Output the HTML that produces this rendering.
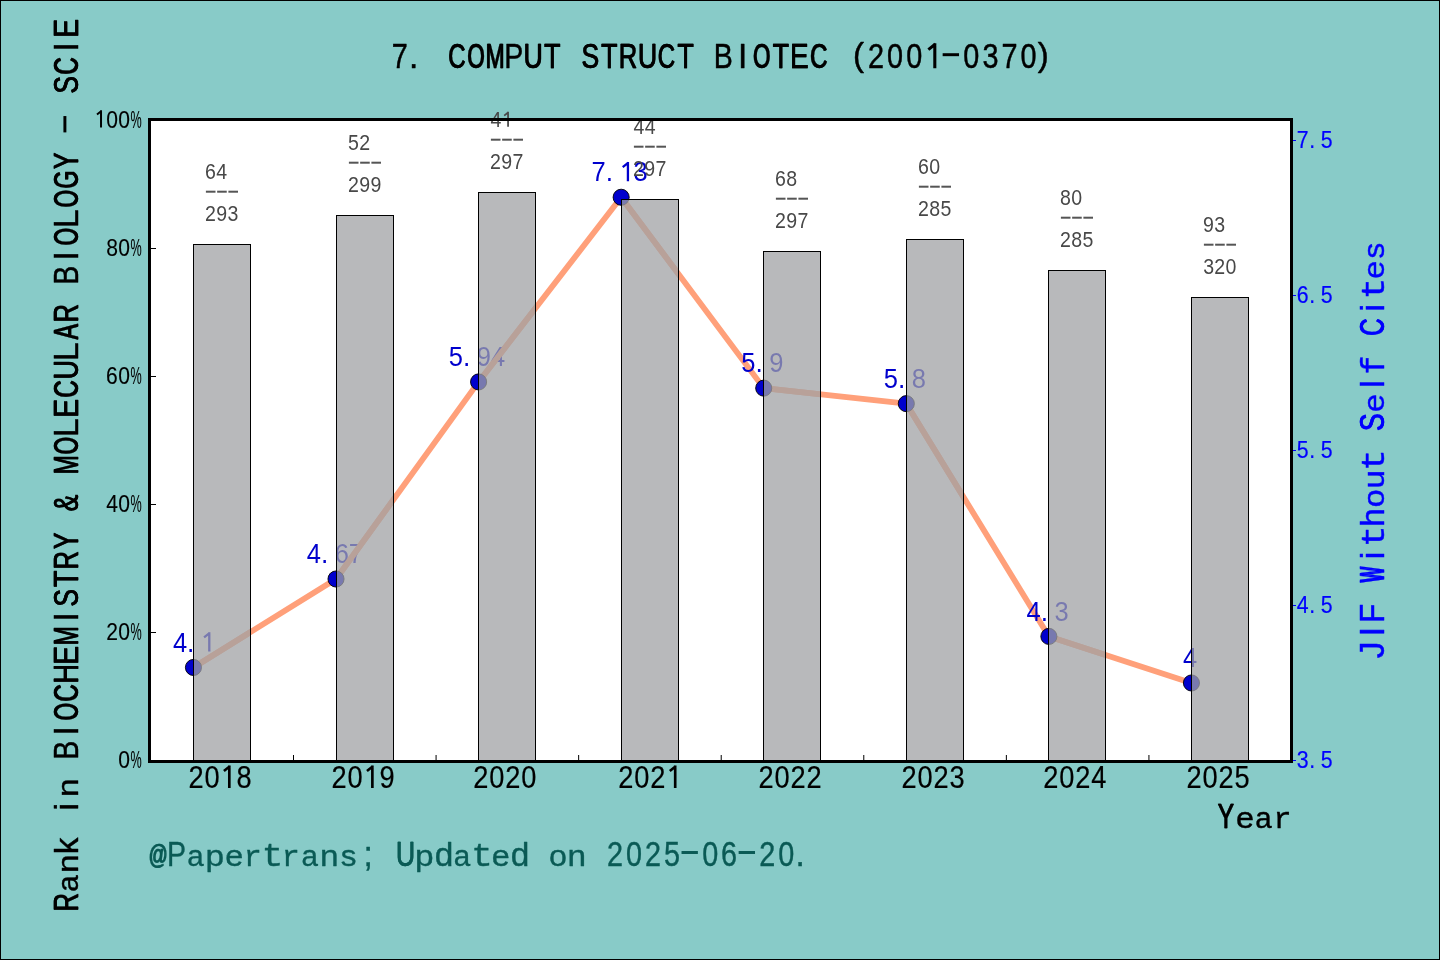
<!DOCTYPE html>
<html><head><meta charset="utf-8"><title>COMPUT STRUCT BIOTEC</title>
<style>
html,body{margin:0;padding:0;background:#88cbc8;}
body{width:1440px;height:960px;overflow:hidden;}
svg{display:block;will-change:transform;font-family:"Liberation Sans",sans-serif;}
</style></head><body>
<svg width="1440" height="960" viewBox="0 0 1440 960">
<rect x="0" y="0" width="1440" height="960" fill="#88cbc8"/>
<rect x="149.5" y="119.5" width="1142.0" height="642.0" fill="#ffffff"/>
<polyline points="193.45,667.45 336.02,579.00 478.59,381.92 621.16,197.26 763.73,388.13 906.31,403.65 1048.88,636.42 1191.45,682.97" fill="none" stroke="#ffa07a" stroke-width="5.8" stroke-linejoin="round" stroke-linecap="butt"/>
<g font-size="27.75" fill="#0000cd"><text transform="translate(172.88,651.55) scale(0.920,1.000)">4</text><text transform="translate(187.01,651.55) scale(0.950,1.000)">.</text><path d="M209.29,651.55V632.13M209.75,632.82L204.08,637.33" fill="none" stroke="#0000cd" stroke-width="2.30"/></g>
<g font-size="27.75" fill="#0000cd"><text transform="translate(306.82,563.10) scale(0.920,1.000)">4</text><text transform="translate(320.95,563.10) scale(0.950,1.000)">.</text><text transform="translate(334.65,563.10) scale(0.920,1.000)">6</text><text transform="translate(348.72,563.10) scale(0.920,1.000)">7</text></g>
<g font-size="27.75" fill="#0000cd"><text transform="translate(448.83,366.02) scale(0.920,1.000)">5</text><text transform="translate(463.02,366.02) scale(0.950,1.000)">.</text><text transform="translate(476.81,366.02) scale(0.920,1.000)">9</text><text transform="translate(490.88,366.02) scale(0.920,1.000)">4</text></g>
<g font-size="27.75" fill="#0000cd"><text transform="translate(591.43,181.36) scale(0.920,1.000)">7</text><text transform="translate(605.66,181.36) scale(0.950,1.000)">.</text><path d="M627.93,181.36V161.93M628.39,162.62L622.72,167.14" fill="none" stroke="#0000cd" stroke-width="2.30"/><text transform="translate(633.51,181.36) scale(0.920,1.000)">3</text></g>
<g font-size="27.75" fill="#0000cd"><text transform="translate(741.24,372.23) scale(0.920,1.000)">5</text><text transform="translate(755.43,372.23) scale(0.950,1.000)">.</text><text transform="translate(769.22,372.23) scale(0.920,1.000)">9</text></g>
<g font-size="27.75" fill="#0000cd"><text transform="translate(883.76,387.75) scale(0.920,1.000)">5</text><text transform="translate(897.95,387.75) scale(0.950,1.000)">.</text><text transform="translate(911.74,387.75) scale(0.920,1.000)">8</text></g>
<g font-size="27.75" fill="#0000cd"><text transform="translate(1026.55,620.52) scale(0.920,1.000)">4</text><text transform="translate(1040.68,620.52) scale(0.950,1.000)">.</text><text transform="translate(1054.54,620.52) scale(0.920,1.000)">3</text></g>
<g font-size="27.75" fill="#0000cd"><text transform="translate(1182.93,667.07) scale(0.920,1.000)">4</text></g>
<clipPath id="barclip"><rect x="193" y="244" width="58" height="518"/><rect x="336" y="215" width="58" height="547"/><rect x="478" y="192" width="58" height="570"/><rect x="621" y="199" width="58" height="563"/><rect x="763" y="251" width="58" height="511"/><rect x="906" y="239" width="58" height="523"/><rect x="1048" y="270" width="58" height="492"/><rect x="1191" y="297" width="58" height="465"/></clipPath>
<g clip-path="url(#barclip)"><polyline points="193.45,667.45 336.02,579.00 478.59,381.92 621.16,197.26 763.73,388.13 906.31,403.65 1048.88,636.42 1191.45,682.97" fill="none" stroke="#ffa07a" stroke-width="5.8" stroke-linejoin="round" stroke-linecap="butt"/></g>
<circle cx="193.45" cy="667.45" r="8.05" fill="#0000cd" stroke="#000000" stroke-width="0.9"/>
<circle cx="336.02" cy="579.00" r="8.05" fill="#0000cd" stroke="#000000" stroke-width="0.9"/>
<circle cx="478.59" cy="381.92" r="8.05" fill="#0000cd" stroke="#000000" stroke-width="0.9"/>
<circle cx="621.16" cy="197.26" r="8.05" fill="#0000cd" stroke="#000000" stroke-width="0.9"/>
<circle cx="763.73" cy="388.13" r="8.05" fill="#0000cd" stroke="#000000" stroke-width="0.9"/>
<circle cx="906.31" cy="403.65" r="8.05" fill="#0000cd" stroke="#000000" stroke-width="0.9"/>
<circle cx="1048.88" cy="636.42" r="8.05" fill="#0000cd" stroke="#000000" stroke-width="0.9"/>
<circle cx="1191.45" cy="682.97" r="8.05" fill="#0000cd" stroke="#000000" stroke-width="0.9"/>
<rect x="193.5" y="244.5" width="57" height="517.0" fill="#a0a1a4" fill-opacity="0.75" stroke="#000000" stroke-width="1"/>
<rect x="336.5" y="215.5" width="57" height="546.0" fill="#a0a1a4" fill-opacity="0.75" stroke="#000000" stroke-width="1"/>
<rect x="478.5" y="192.5" width="57" height="569.0" fill="#a0a1a4" fill-opacity="0.75" stroke="#000000" stroke-width="1"/>
<rect x="621.5" y="199.5" width="57" height="562.0" fill="#a0a1a4" fill-opacity="0.75" stroke="#000000" stroke-width="1"/>
<rect x="763.5" y="251.5" width="57" height="510.0" fill="#a0a1a4" fill-opacity="0.75" stroke="#000000" stroke-width="1"/>
<rect x="906.5" y="239.5" width="57" height="522.0" fill="#a0a1a4" fill-opacity="0.75" stroke="#000000" stroke-width="1"/>
<rect x="1048.5" y="270.5" width="57" height="491.0" fill="#a0a1a4" fill-opacity="0.75" stroke="#000000" stroke-width="1"/>
<rect x="1191.5" y="297.5" width="57" height="464.0" fill="#a0a1a4" fill-opacity="0.75" stroke="#000000" stroke-width="1"/>
<g font-size="20.81" fill="#484848"><text transform="translate(204.92,220.80) scale(0.940,1.030)">2</text><text transform="translate(216.17,220.80) scale(0.940,1.030)">9</text><text transform="translate(227.47,220.80) scale(0.940,1.030)">3</text></g>
<g font-size="20.81" fill="#484848"><text transform="translate(204.91,178.70) scale(0.940,1.030)">6</text><text transform="translate(216.29,178.70) scale(0.940,1.030)">4</text></g>
<rect x="205.90" y="190.70" width="9.6" height="2" fill="#555555"/>
<rect x="217.15" y="190.70" width="9.6" height="2" fill="#555555"/>
<rect x="228.40" y="190.70" width="9.6" height="2" fill="#555555"/>
<g font-size="20.81" fill="#484848"><text transform="translate(347.92,191.80) scale(0.940,1.030)">2</text><text transform="translate(359.17,191.80) scale(0.940,1.030)">9</text><text transform="translate(370.42,191.80) scale(0.940,1.030)">9</text></g>
<g font-size="20.81" fill="#484848"><text transform="translate(348.12,149.70) scale(0.940,1.030)">5</text><text transform="translate(359.35,149.70) scale(0.940,1.030)">2</text></g>
<rect x="348.90" y="161.70" width="9.6" height="2" fill="#555555"/>
<rect x="360.15" y="161.70" width="9.6" height="2" fill="#555555"/>
<rect x="371.40" y="161.70" width="9.6" height="2" fill="#555555"/>
<g font-size="20.81" fill="#484848"><text transform="translate(489.92,168.80) scale(0.940,1.030)">2</text><text transform="translate(501.17,168.80) scale(0.940,1.030)">9</text><text transform="translate(512.41,168.80) scale(0.940,1.030)">7</text></g>
<g font-size="20.81" fill="#484848"><text transform="translate(490.45,126.70) scale(0.940,1.030)">4</text><path d="M508.06,126.70V111.69M508.41,112.22L504.18,115.57" fill="none" stroke="#484848" stroke-width="1.76"/></g>
<rect x="490.90" y="138.70" width="9.6" height="2" fill="#555555"/>
<rect x="502.15" y="138.70" width="9.6" height="2" fill="#555555"/>
<rect x="513.40" y="138.70" width="9.6" height="2" fill="#555555"/>
<g font-size="20.81" fill="#484848"><text transform="translate(632.92,175.80) scale(0.940,1.030)">2</text><text transform="translate(644.17,175.80) scale(0.940,1.030)">9</text><text transform="translate(655.41,175.80) scale(0.940,1.030)">7</text></g>
<g font-size="20.81" fill="#484848"><text transform="translate(633.45,133.70) scale(0.940,1.030)">4</text><text transform="translate(644.70,133.70) scale(0.940,1.030)">4</text></g>
<rect x="633.90" y="145.70" width="9.6" height="2" fill="#555555"/>
<rect x="645.15" y="145.70" width="9.6" height="2" fill="#555555"/>
<rect x="656.40" y="145.70" width="9.6" height="2" fill="#555555"/>
<g font-size="20.81" fill="#484848"><text transform="translate(774.92,227.80) scale(0.940,1.030)">2</text><text transform="translate(786.17,227.80) scale(0.940,1.030)">9</text><text transform="translate(797.41,227.80) scale(0.940,1.030)">7</text></g>
<g font-size="20.81" fill="#484848"><text transform="translate(774.91,185.70) scale(0.940,1.030)">6</text><text transform="translate(786.22,185.70) scale(0.940,1.030)">8</text></g>
<rect x="775.90" y="197.70" width="9.6" height="2" fill="#555555"/>
<rect x="787.15" y="197.70" width="9.6" height="2" fill="#555555"/>
<rect x="798.40" y="197.70" width="9.6" height="2" fill="#555555"/>
<g font-size="20.81" fill="#484848"><text transform="translate(917.92,215.80) scale(0.940,1.030)">2</text><text transform="translate(929.17,215.80) scale(0.940,1.030)">8</text><text transform="translate(940.44,215.80) scale(0.940,1.030)">5</text></g>
<g font-size="20.81" fill="#484848"><text transform="translate(917.91,173.70) scale(0.940,1.030)">6</text><text transform="translate(929.22,173.70) scale(0.940,1.030)">0</text></g>
<rect x="918.90" y="185.70" width="9.6" height="2" fill="#555555"/>
<rect x="930.15" y="185.70" width="9.6" height="2" fill="#555555"/>
<rect x="941.40" y="185.70" width="9.6" height="2" fill="#555555"/>
<g font-size="20.81" fill="#484848"><text transform="translate(1059.92,246.80) scale(0.940,1.030)">2</text><text transform="translate(1071.17,246.80) scale(0.940,1.030)">8</text><text transform="translate(1082.44,246.80) scale(0.940,1.030)">5</text></g>
<g font-size="20.81" fill="#484848"><text transform="translate(1060.05,204.70) scale(0.940,1.030)">8</text><text transform="translate(1071.30,204.70) scale(0.940,1.030)">0</text></g>
<rect x="1060.90" y="216.70" width="9.6" height="2" fill="#555555"/>
<rect x="1072.15" y="216.70" width="9.6" height="2" fill="#555555"/>
<rect x="1083.40" y="216.70" width="9.6" height="2" fill="#555555"/>
<g font-size="20.81" fill="#484848"><text transform="translate(1203.15,273.80) scale(0.940,1.030)">3</text><text transform="translate(1214.35,273.80) scale(0.940,1.030)">2</text><text transform="translate(1225.60,273.80) scale(0.940,1.030)">0</text></g>
<g font-size="20.81" fill="#484848"><text transform="translate(1202.98,231.70) scale(0.940,1.030)">9</text><text transform="translate(1214.29,231.70) scale(0.940,1.030)">3</text></g>
<rect x="1203.90" y="243.70" width="9.6" height="2" fill="#555555"/>
<rect x="1215.15" y="243.70" width="9.6" height="2" fill="#555555"/>
<rect x="1226.40" y="243.70" width="9.6" height="2" fill="#555555"/>
<rect x="293.00" y="755" width="1" height="6" fill="#000"/>
<rect x="435.57" y="755" width="1" height="6" fill="#000"/>
<rect x="578.14" y="755" width="1" height="6" fill="#000"/>
<rect x="720.71" y="755" width="1" height="6" fill="#000"/>
<rect x="863.28" y="755" width="1" height="6" fill="#000"/>
<rect x="1005.86" y="755" width="1" height="6" fill="#000"/>
<rect x="1148.43" y="755" width="1" height="6" fill="#000"/>
<rect x="150" y="760" width="6" height="1" fill="#000"/>
<rect x="150" y="632" width="6" height="1" fill="#000"/>
<rect x="150" y="504" width="6" height="1" fill="#000"/>
<rect x="150" y="376" width="6" height="1" fill="#000"/>
<rect x="150" y="248" width="6" height="1" fill="#000"/>
<rect x="150" y="120" width="6" height="1" fill="#000"/>
<rect x="149.5" y="119.5" width="1142.0" height="642.0" fill="none" stroke="#000" stroke-width="3"/>
<rect x="1293" y="760" width="3" height="1" fill="#0000ff"/>
<g font-size="22.20" fill="#0000ff" stroke="#0000ff" stroke-width="0.2" stroke-linejoin="round"><text transform="translate(1296.84,768.10) scale(0.960,1.060)">3</text><text transform="translate(1309.25,768.10) scale(0.950,1.060)">.</text><text transform="translate(1320.79,768.10) scale(0.960,1.060)">5</text></g>
<rect x="1293" y="605" width="3" height="1" fill="#0000ff"/>
<g font-size="22.20" fill="#0000ff" stroke="#0000ff" stroke-width="0.2" stroke-linejoin="round"><text transform="translate(1296.84,613.10) scale(0.960,1.060)">4</text><text transform="translate(1309.25,613.10) scale(0.950,1.060)">.</text><text transform="translate(1320.79,613.10) scale(0.960,1.060)">5</text></g>
<rect x="1293" y="450" width="3" height="1" fill="#0000ff"/>
<g font-size="22.20" fill="#0000ff" stroke="#0000ff" stroke-width="0.2" stroke-linejoin="round"><text transform="translate(1296.79,458.10) scale(0.960,1.060)">5</text><text transform="translate(1309.25,458.10) scale(0.950,1.060)">.</text><text transform="translate(1320.79,458.10) scale(0.960,1.060)">5</text></g>
<rect x="1293" y="295" width="3" height="1" fill="#0000ff"/>
<g font-size="22.20" fill="#0000ff" stroke="#0000ff" stroke-width="0.2" stroke-linejoin="round"><text transform="translate(1296.70,303.10) scale(0.960,1.060)">6</text><text transform="translate(1309.25,303.10) scale(0.950,1.060)">.</text><text transform="translate(1320.79,303.10) scale(0.960,1.060)">5</text></g>
<rect x="1293" y="140" width="3" height="1" fill="#0000ff"/>
<g font-size="22.20" fill="#0000ff" stroke="#0000ff" stroke-width="0.2" stroke-linejoin="round"><text transform="translate(1296.76,148.10) scale(0.960,1.060)">7</text><text transform="translate(1309.25,148.10) scale(0.950,1.060)">.</text><text transform="translate(1320.79,148.10) scale(0.960,1.060)">5</text></g>
<g font-size="22.20" fill="#000000" stroke="#000000" stroke-width="0.1" stroke-linejoin="round"><text transform="translate(118.18,767.50) scale(0.950,1.100)">0</text><text transform="translate(130.43,767.50) scale(0.568,1.100)">%</text></g>
<g font-size="22.20" fill="#000000" stroke="#000000" stroke-width="0.1" stroke-linejoin="round"><text transform="translate(106.18,639.50) scale(0.950,1.100)">2</text><text transform="translate(118.18,639.50) scale(0.950,1.100)">0</text><text transform="translate(130.43,639.50) scale(0.568,1.100)">%</text></g>
<g font-size="22.20" fill="#000000" stroke="#000000" stroke-width="0.1" stroke-linejoin="round"><text transform="translate(106.24,511.50) scale(0.950,1.100)">4</text><text transform="translate(118.18,511.50) scale(0.950,1.100)">0</text><text transform="translate(130.43,511.50) scale(0.568,1.100)">%</text></g>
<g font-size="22.20" fill="#000000" stroke="#000000" stroke-width="0.1" stroke-linejoin="round"><text transform="translate(106.10,383.50) scale(0.950,1.100)">6</text><text transform="translate(118.18,383.50) scale(0.950,1.100)">0</text><text transform="translate(130.43,383.50) scale(0.568,1.100)">%</text></g>
<g font-size="22.20" fill="#000000" stroke="#000000" stroke-width="0.1" stroke-linejoin="round"><text transform="translate(106.18,255.50) scale(0.950,1.100)">8</text><text transform="translate(118.18,255.50) scale(0.950,1.100)">0</text><text transform="translate(130.43,255.50) scale(0.568,1.100)">%</text></g>
<g font-size="22.20" fill="#000000" stroke="#000000" stroke-width="0.1" stroke-linejoin="round"><path d="M101.02,127.55V110.36M101.42,110.96L96.98,114.42" fill="none" stroke="#000000" stroke-width="2.00"/><text transform="translate(106.18,127.50) scale(0.950,1.100)">0</text><text transform="translate(118.18,127.50) scale(0.950,1.100)">0</text><text transform="translate(130.43,127.50) scale(0.568,1.100)">%</text></g>
<g font-size="29.60" fill="#000000" stroke="#000000" stroke-width="0.2" stroke-linejoin="round"><text transform="translate(188.43,788.00) scale(0.920,1.080)">2</text><text transform="translate(204.43,788.00) scale(0.920,1.080)">0</text><path d="M229.32,788.10V765.52M229.85,766.32L223.92,770.94" fill="none" stroke="#000000" stroke-width="2.65"/><text transform="translate(236.43,788.00) scale(0.920,1.080)">8</text></g>
<g font-size="29.60" fill="#000000" stroke="#000000" stroke-width="0.2" stroke-linejoin="round"><text transform="translate(331.48,788.00) scale(0.920,1.080)">2</text><text transform="translate(347.48,788.00) scale(0.920,1.080)">0</text><path d="M372.37,788.10V765.52M372.90,766.32L366.97,770.94" fill="none" stroke="#000000" stroke-width="2.65"/><text transform="translate(379.49,788.00) scale(0.920,1.080)">9</text></g>
<g font-size="29.60" fill="#000000" stroke="#000000" stroke-width="0.2" stroke-linejoin="round"><text transform="translate(473.37,788.00) scale(0.920,1.080)">2</text><text transform="translate(489.37,788.00) scale(0.920,1.080)">0</text><text transform="translate(505.37,788.00) scale(0.920,1.080)">2</text><text transform="translate(521.37,788.00) scale(0.920,1.080)">0</text></g>
<g font-size="29.60" fill="#000000" stroke="#000000" stroke-width="0.2" stroke-linejoin="round"><text transform="translate(618.31,788.00) scale(0.920,1.080)">2</text><text transform="translate(634.31,788.00) scale(0.920,1.080)">0</text><text transform="translate(650.31,788.00) scale(0.920,1.080)">2</text><path d="M675.20,788.10V765.52M675.73,766.32L669.80,770.94" fill="none" stroke="#000000" stroke-width="2.65"/></g>
<g font-size="29.60" fill="#000000" stroke="#000000" stroke-width="0.2" stroke-linejoin="round"><text transform="translate(758.53,788.00) scale(0.920,1.080)">2</text><text transform="translate(774.53,788.00) scale(0.920,1.080)">0</text><text transform="translate(790.53,788.00) scale(0.920,1.080)">2</text><text transform="translate(806.53,788.00) scale(0.920,1.080)">2</text></g>
<g font-size="29.60" fill="#000000" stroke="#000000" stroke-width="0.2" stroke-linejoin="round"><text transform="translate(901.40,788.00) scale(0.920,1.080)">2</text><text transform="translate(917.40,788.00) scale(0.920,1.080)">0</text><text transform="translate(933.40,788.00) scale(0.920,1.080)">2</text><text transform="translate(949.48,788.00) scale(0.920,1.080)">3</text></g>
<g font-size="29.60" fill="#000000" stroke="#000000" stroke-width="0.2" stroke-linejoin="round"><text transform="translate(1043.20,788.00) scale(0.920,1.080)">2</text><text transform="translate(1059.20,788.00) scale(0.920,1.080)">0</text><text transform="translate(1075.20,788.00) scale(0.920,1.080)">2</text><text transform="translate(1091.28,788.00) scale(0.920,1.080)">4</text></g>
<g font-size="29.60" fill="#000000" stroke="#000000" stroke-width="0.2" stroke-linejoin="round"><text transform="translate(1186.40,788.00) scale(0.920,1.080)">2</text><text transform="translate(1202.40,788.00) scale(0.920,1.080)">0</text><text transform="translate(1218.40,788.00) scale(0.920,1.080)">2</text><text transform="translate(1234.43,788.00) scale(0.920,1.080)">5</text></g>
<g font-size="35.15" fill="#000000" stroke="#000000" stroke-width="0.49" stroke-linejoin="round"><text transform="translate(1217.61,828.00) scale(0.694,1.000)">Y</text><text transform="translate(1218.12,828.00) scale(0.694,1.000)">Y</text><text transform="translate(1236.02,828.00) scale(0.922,0.840)">e</text><text transform="translate(1255.14,828.00) scale(0.842,0.840)">a</text><text font-family="Liberation Mono" transform="translate(1273.56,828.00) scale(0.855,0.840)">r</text></g>
<g font-size="35.15" fill="#000000" stroke="#000000" stroke-width="0.49" stroke-linejoin="round"><text transform="translate(391.80,68.00) scale(0.820,1.000)">7</text><text transform="translate(408.90,68.00) scale(0.950,1.000)">.</text><text transform="translate(447.88,68.00) scale(0.683,1.000)">C</text><text transform="translate(448.43,68.00) scale(0.683,1.000)">C</text><text transform="translate(467.02,68.00) scale(0.633,1.000)">O</text><text transform="translate(467.72,68.00) scale(0.633,1.000)">O</text><text transform="translate(485.28,68.00) scale(0.646,1.000)">M</text><text transform="translate(485.94,68.00) scale(0.646,1.000)">M</text><text transform="translate(504.18,68.00) scale(0.812,1.000)">P</text><text transform="translate(523.36,68.00) scale(0.761,1.000)">U</text><text transform="translate(523.66,68.00) scale(0.761,1.000)">U</text><text transform="translate(543.88,68.00) scale(0.765,1.000)">T</text><text transform="translate(544.17,68.00) scale(0.765,1.000)">T</text><text transform="translate(581.36,68.00) scale(0.751,1.000)">S</text><text transform="translate(581.69,68.00) scale(0.751,1.000)">S</text><text transform="translate(601.03,68.00) scale(0.765,1.000)">T</text><text transform="translate(601.32,68.00) scale(0.765,1.000)">T</text><text transform="translate(618.52,68.00) scale(0.728,1.000)">R</text><text transform="translate(618.93,68.00) scale(0.728,1.000)">R</text><text transform="translate(637.66,68.00) scale(0.761,1.000)">U</text><text transform="translate(637.96,68.00) scale(0.761,1.000)">U</text><text transform="translate(657.43,68.00) scale(0.683,1.000)">C</text><text transform="translate(657.98,68.00) scale(0.683,1.000)">C</text><text transform="translate(677.23,68.00) scale(0.765,1.000)">T</text><text transform="translate(677.52,68.00) scale(0.765,1.000)">T</text><text transform="translate(713.73,68.00) scale(0.812,1.000)">B</text><text transform="translate(738.09,68.00) scale(0.950,1.000)">I</text><text transform="translate(752.77,68.00) scale(0.633,1.000)">O</text><text transform="translate(753.47,68.00) scale(0.633,1.000)">O</text><text transform="translate(772.48,68.00) scale(0.765,1.000)">T</text><text transform="translate(772.77,68.00) scale(0.765,1.000)">T</text><text transform="translate(789.88,68.00) scale(0.798,1.000)">E</text><text transform="translate(790.07,68.00) scale(0.798,1.000)">E</text><text transform="translate(809.83,68.00) scale(0.683,1.000)">C</text><text transform="translate(810.38,68.00) scale(0.683,1.000)">C</text><text transform="translate(852.90,65.80) scale(0.938,0.940)">(</text><text transform="translate(868.06,68.00) scale(0.820,1.000)">2</text><text transform="translate(887.11,68.00) scale(0.820,1.000)">0</text><text transform="translate(906.16,68.00) scale(0.820,1.000)">0</text><path d="M934.81,68.25V43.15M935.43,44.08L928.35,49.63" fill="none" stroke="#000000" stroke-width="3.08"/><rect x="942.65" y="53.22" width="16.38" height="2.96" stroke="none"/><text transform="translate(963.31,68.00) scale(0.820,1.000)">0</text><text transform="translate(982.44,68.00) scale(0.820,1.000)">3</text><text transform="translate(1001.40,68.00) scale(0.820,1.000)">7</text><text transform="translate(1020.46,68.00) scale(0.820,1.000)">0</text><text transform="translate(1037.63,65.80) scale(0.938,0.940)">)</text></g>
<g font-size="35.15" fill="#0a5a55" stroke="#0a5a55" stroke-width="0.4" stroke-linejoin="round"><text transform="translate(148.21,864.09) scale(0.528,0.800)">@</text><text transform="translate(149.14,864.09) scale(0.528,0.800)">@</text><text transform="translate(167.12,865.80) scale(0.812,1.000)">P</text><text transform="translate(187.24,865.80) scale(0.842,0.840)">a</text><text transform="translate(205.48,865.80) scale(0.950,0.840)">p</text><text transform="translate(225.20,865.80) scale(0.922,0.840)">e</text><text font-family="Liberation Mono" transform="translate(243.78,865.80) scale(0.855,0.840)">r</text><text font-family="Liberation Mono" transform="translate(261.72,865.80) scale(1.017,0.950)">t</text><text font-family="Liberation Mono" transform="translate(281.86,865.80) scale(0.855,0.840)">r</text><text transform="translate(301.48,865.80) scale(0.842,0.840)">a</text><text transform="translate(320.07,865.80) scale(0.950,0.840)">n</text><text transform="translate(340.71,865.80) scale(0.893,0.840)">s</text><text transform="translate(363.39,865.80) scale(0.950,1.000)">;</text><text transform="translate(395.78,865.80) scale(0.761,1.000)">U</text><text transform="translate(395.97,865.80) scale(0.761,1.000)">U</text><text transform="translate(414.92,865.80) scale(0.950,0.840)">p</text><text transform="translate(434.71,865.80) scale(0.950,0.950)">d</text><text transform="translate(453.80,865.80) scale(0.842,0.840)">a</text><text font-family="Liberation Mono" transform="translate(471.16,865.80) scale(1.017,0.950)">t</text><text transform="translate(491.76,865.80) scale(0.922,0.840)">e</text><text transform="translate(510.87,865.80) scale(0.950,0.950)">d</text><text transform="translate(548.91,865.80) scale(0.916,0.840)">o</text><text transform="translate(567.59,865.80) scale(0.950,0.840)">n</text><text transform="translate(606.97,865.80) scale(0.820,1.000)">2</text><text transform="translate(626.01,865.80) scale(0.820,1.000)">0</text><text transform="translate(645.05,865.80) scale(0.820,1.000)">2</text><text transform="translate(664.11,865.80) scale(0.820,1.000)">5</text><rect x="681.52" y="851.02" width="16.37" height="2.96" stroke="none"/><text transform="translate(702.17,865.80) scale(0.820,1.000)">0</text><text transform="translate(721.11,865.80) scale(0.820,1.000)">6</text><rect x="738.64" y="851.02" width="16.37" height="2.96" stroke="none"/><text transform="translate(759.29,865.80) scale(0.820,1.000)">2</text><text transform="translate(778.33,865.80) scale(0.820,1.000)">0</text><text transform="translate(795.41,865.80) scale(0.950,1.000)">.</text></g>
<g transform="translate(78.2,911.3) rotate(-90)">
<g font-size="35.15" fill="#000000" stroke="#000000" stroke-width="0.49" stroke-linejoin="round"><text transform="translate(-0.40,0.00) scale(0.728,1.000)">R</text><text transform="translate(0.00,0.00) scale(0.728,1.000)">R</text><text transform="translate(19.64,0.00) scale(0.842,0.840)">a</text><text transform="translate(38.19,0.00) scale(0.950,0.840)">n</text><text transform="translate(57.00,0.00) scale(0.950,0.950)">k</text><text transform="translate(100.80,0.00) scale(0.950,0.950)">i</text><text transform="translate(114.19,0.00) scale(0.950,0.840)">n</text><text transform="translate(151.56,0.00) scale(0.812,1.000)">B</text><text transform="translate(175.86,0.00) scale(0.950,1.000)">I</text><text transform="translate(190.49,0.00) scale(0.633,1.000)">O</text><text transform="translate(191.20,0.00) scale(0.633,1.000)">O</text><text transform="translate(209.41,0.00) scale(0.683,1.000)">C</text><text transform="translate(209.96,0.00) scale(0.683,1.000)">C</text><text transform="translate(227.54,0.00) scale(0.774,1.000)">H</text><text transform="translate(227.80,0.00) scale(0.774,1.000)">H</text><text transform="translate(246.51,0.00) scale(0.798,1.000)">E</text><text transform="translate(246.69,0.00) scale(0.798,1.000)">E</text><text transform="translate(265.70,0.00) scale(0.646,1.000)">M</text><text transform="translate(266.37,0.00) scale(0.646,1.000)">M</text><text transform="translate(289.86,0.00) scale(0.950,1.000)">I</text><text transform="translate(304.53,0.00) scale(0.751,1.000)">S</text><text transform="translate(304.87,0.00) scale(0.751,1.000)">S</text><text transform="translate(324.15,0.00) scale(0.765,1.000)">T</text><text transform="translate(324.44,0.00) scale(0.765,1.000)">T</text><text transform="translate(341.60,0.00) scale(0.728,1.000)">R</text><text transform="translate(342.00,0.00) scale(0.728,1.000)">R</text><text transform="translate(362.11,0.00) scale(0.694,1.000)">Y</text><text transform="translate(362.62,0.00) scale(0.694,1.000)">Y</text><text transform="translate(399.79,0.00) scale(0.702,1.000)">&amp;</text><text transform="translate(400.28,0.00) scale(0.702,1.000)">&amp;</text><text transform="translate(436.70,0.00) scale(0.646,1.000)">M</text><text transform="translate(437.37,0.00) scale(0.646,1.000)">M</text><text transform="translate(456.49,0.00) scale(0.633,1.000)">O</text><text transform="translate(457.20,0.00) scale(0.633,1.000)">O</text><text transform="translate(474.40,0.00) scale(0.950,1.000)">L</text><text transform="translate(493.51,0.00) scale(0.798,1.000)">E</text><text transform="translate(493.69,0.00) scale(0.798,1.000)">E</text><text transform="translate(513.41,0.00) scale(0.683,1.000)">C</text><text transform="translate(513.96,0.00) scale(0.683,1.000)">C</text><text transform="translate(531.68,0.00) scale(0.761,1.000)">U</text><text transform="translate(531.99,0.00) scale(0.761,1.000)">U</text><text transform="translate(550.40,0.00) scale(0.950,1.000)">L</text><text transform="translate(571.53,0.00) scale(0.652,1.000)">A</text><text transform="translate(572.18,0.00) scale(0.652,1.000)">A</text><text transform="translate(588.60,0.00) scale(0.728,1.000)">R</text><text transform="translate(589.00,0.00) scale(0.728,1.000)">R</text><text transform="translate(626.56,0.00) scale(0.812,1.000)">B</text><text transform="translate(650.86,0.00) scale(0.950,1.000)">I</text><text transform="translate(665.49,0.00) scale(0.633,1.000)">O</text><text transform="translate(666.20,0.00) scale(0.633,1.000)">O</text><text transform="translate(683.40,0.00) scale(0.950,1.000)">L</text><text transform="translate(703.49,0.00) scale(0.633,1.000)">O</text><text transform="translate(704.20,0.00) scale(0.633,1.000)">O</text><text transform="translate(722.42,0.00) scale(0.662,1.000)">G</text><text transform="translate(723.04,0.00) scale(0.662,1.000)">G</text><text transform="translate(742.11,0.00) scale(0.694,1.000)">Y</text><text transform="translate(742.62,0.00) scale(0.694,1.000)">Y</text><rect x="778.90" y="-14.78" width="16.34" height="2.96" stroke="none"/><text transform="translate(817.53,0.00) scale(0.751,1.000)">S</text><text transform="translate(817.87,0.00) scale(0.751,1.000)">S</text><text transform="translate(836.41,0.00) scale(0.683,1.000)">C</text><text transform="translate(836.96,0.00) scale(0.683,1.000)">C</text><text transform="translate(859.86,0.00) scale(0.950,1.000)">I</text><text transform="translate(873.51,0.00) scale(0.798,1.000)">E</text><text transform="translate(873.69,0.00) scale(0.798,1.000)">E</text></g>
</g>
<g transform="translate(1383.8,660.3) rotate(-90)">
<g font-size="35.15" fill="#0000ff" stroke="#0000ff" stroke-width="0.49" stroke-linejoin="round"><text transform="translate(2.16,0.00) scale(0.950,1.000)">J</text><text transform="translate(23.94,0.00) scale(0.950,1.000)">I</text><text transform="translate(37.47,0.00) scale(0.885,1.000)">F</text><text transform="translate(77.43,0.00) scale(0.462,1.000)">W</text><text transform="translate(78.68,0.00) scale(0.462,1.000)">W</text><text transform="translate(101.07,0.00) scale(0.950,0.950)">i</text><text font-family="Liberation Mono" transform="translate(113.29,0.00) scale(1.017,0.950)">t</text><text transform="translate(133.52,0.00) scale(0.950,0.950)">h</text><text transform="translate(152.97,0.00) scale(0.916,0.840)">o</text><text transform="translate(171.71,0.00) scale(0.950,0.840)">u</text><text font-family="Liberation Mono" transform="translate(189.49,0.00) scale(1.017,0.950)">t</text><text transform="translate(229.16,0.00) scale(0.751,1.000)">S</text><text transform="translate(229.49,0.00) scale(0.751,1.000)">S</text><text transform="translate(248.20,0.00) scale(0.922,0.840)">e</text><text transform="translate(272.51,0.00) scale(0.950,0.950)">l</text><text font-family="Liberation Mono" transform="translate(285.98,0.00) scale(0.875,0.950)">f</text><text transform="translate(324.28,0.00) scale(0.683,1.000)">C</text><text transform="translate(324.83,0.00) scale(0.683,1.000)">C</text><text transform="translate(348.72,0.00) scale(0.950,0.950)">i</text><text font-family="Liberation Mono" transform="translate(360.94,0.00) scale(1.017,0.950)">t</text><text transform="translate(381.55,0.00) scale(0.922,0.840)">e</text><text transform="translate(401.86,0.00) scale(0.893,0.840)">s</text></g>
</g>
<rect x="0.5" y="0.5" width="1439" height="959" fill="none" stroke="#000" stroke-width="1"/>
</svg>
</body></html>
